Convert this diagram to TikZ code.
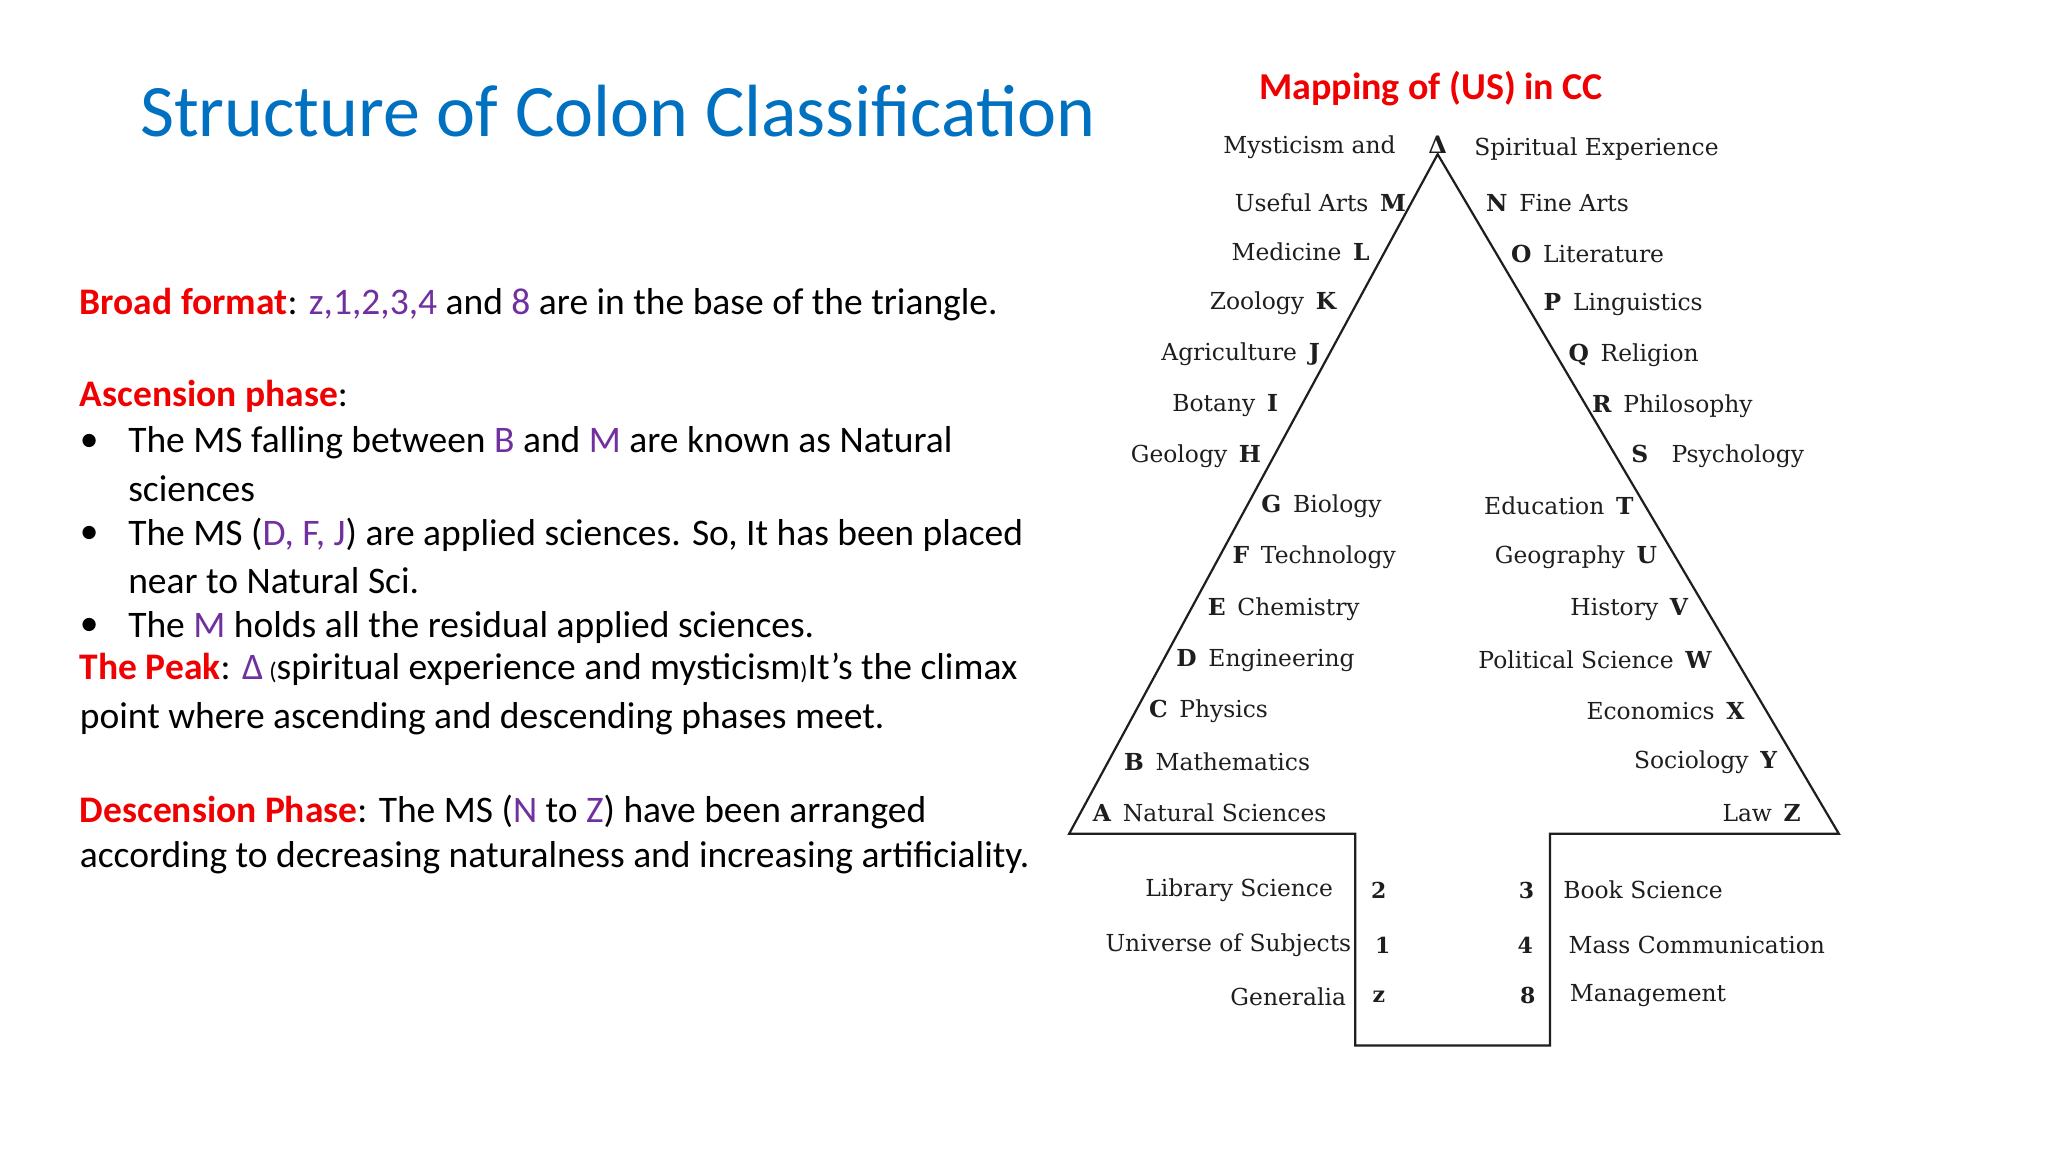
\documentclass[tikz,border=0pt]{standalone}
\usepackage{fontspec}
\setmainfont{Carlito}
\newfontfamily\labfont{DejaVu Serif}
\definecolor{ttl}{RGB}{0,112,192}
\definecolor{pur}{RGB}{112,48,160}
\definecolor{rd}{RGB}{240,0,0}
\definecolor{ink}{RGB}{30,30,30}
\begin{document}
\begin{tikzpicture}[x=1.307pt,y=-1.307pt,
  lab/.style={font=\labfont\fontsize{23.4}{26}\selectfont,text=ink,inner sep=0pt},
  num/.style={lab,font=\labfont\bfseries\fontsize{22}{26}\selectfont},
  body/.style={font=\fontsize{37.5}{42}\selectfont,anchor=west,inner sep=0pt}]
\useasboundingbox (0,0) rectangle (1567,881.4);
\fill[white] (0,0) rectangle (1567,881.4);
\node[anchor=west,text=ttl,font=\fontsize{74}{80}\selectfont,inner sep=0pt] (title) at (107,85) {Structure of Colon Classification};
\node[text=rd,font=\bfseries\fontsize{38}{44}\selectfont,inner sep=0pt] (map) at (1095,68) {Mapping of (US) in CC};
% left text
\node[body] (t1) at (61,233) {{\color{rd}\bfseries Broad format}: {\color{pur}z,1,2,3,4} and {\color{pur}8} are in the base of the triangle.};
\node[body] (t2) at (61,303) {{\color{rd}\bfseries Ascension phase}:};
\node[body] (b1) at (61,339) {•};
\node[body] (t3) at (98,339) {The MS falling between {\color{pur}B} and {\color{pur}M} are known as Natural};
\node[body] (t4) at (98,374) {sciences};
\node[body] (b2) at (61,409) {•};
\node[body] (t5) at (98,409) {The MS ({\color{pur}D, F, J}) are applied sciences. So, It has been placed};
\node[body] (t6) at (98,444) {near to Natural Sci.};
\node[body] (b3) at (61,480) {•};
\node[body] (t7) at (98,480) {The {\color{pur}M} holds all the residual applied sciences.};
\node[body] (t8) at (61,512) {{\color{rd}\bfseries The Peak}: {\color{pur}Δ}\,{\fontsize{24}{26}\selectfont(}spiritual experience and mysticism{\fontsize{24}{26}\selectfont)}It’s the climax};
\node[body] (t9) at (61,550) {point where ascending and descending phases meet.};
\node[body] (t10) at (61,621) {{\color{rd}\bfseries Descension Phase}: The MS ({\color{pur}N} to {\color{pur}Z}) have been arranged};
\node[body] (t11) at (61,656) {according to decreasing naturalness and increasing artificiality.};
% triangle outline
\coordinate (apex) at (1100,118);
\coordinate (bl) at (818,638);
\coordinate (br) at (1407,638);
\coordinate (sl) at (1037,638);
\coordinate (sr) at (1186,638);
\coordinate (sbl) at (1037,800);
\coordinate (sbr) at (1186,800);
\draw[line width=2.2pt,ink,line join=miter] (sl) -- (bl) -- (apex) -- (br) -- (sr) -- (sbr) -- (sbl) -- cycle;
\node[lab,font=\labfont\bfseries\fontsize{24}{26}\selectfont] (delta) at (1100,111) {Δ};
\node[lab,anchor=east] (myst) at (1068,113) {Mysticism and};
\node[lab,anchor=west] (spir) at (1128,114) {Spiritual Experience};
\foreach \t/\x/\y [count=\i] in {Useful Arts\enspace\textbf{M}/1076/155, Medicine\enspace\textbf{L}/1048/193, Zoology\enspace\textbf{K}/1023/232, Agriculture\enspace\textbf{J}/1010/271, Botany\enspace\textbf{I}/978/310, Geology\enspace\textbf{H}/965/349, Education\enspace\textbf{T}/1250/387, Geography\enspace\textbf{U}/1268/426, History\enspace\textbf{V}/1292/466, Political Science\enspace\textbf{W}/1310/505, Economics\enspace\textbf{X}/1335/544, Sociology\enspace\textbf{Y}/1360/583, Law\enspace\textbf{Z}/1378/622}
  \node[lab,anchor=east] (le\i) at (\x,\y) {\t};
\foreach \t/\x/\y [count=\i] in {\textbf{N}\enspace Fine Arts/1137/155, \textbf{O}\enspace Literature/1156/194, \textbf{P}\enspace Linguistics/1181/233, \textbf{Q}\enspace Religion/1200/272, \textbf{R}\enspace Philosophy/1218/311, \textbf{S}\enspace\enspace Psychology/1248/349, \textbf{G}\enspace Biology/965/387, \textbf{F}\enspace Technology/943/426, \textbf{E}\enspace Chemistry/924/466, \textbf{D}\enspace Engineering/900/505, \textbf{C}\enspace Physics/879/544, \textbf{B}\enspace Mathematics/860/583, \textbf{A}\enspace Natural Sciences/836/622}
  \node[lab,anchor=west] (rw\i) at (\x,\y) {\t};
% stem
\node[lab,anchor=east] (ls) at (1020,681) {Library Science};
\node[lab,anchor=east] (us) at (1034,723) {Universe of Subjects};
\node[lab,anchor=east] (ge) at (1030,763) {Generalia};
\node[num] (n2) at (1055,681) {2};
\node[num] (n1) at (1058,723) {1};
\node[num] (nz) at (1055,763) {z};
\node[num] (n3) at (1168,681) {3};
\node[num] (n4) at (1167,723) {4};
\node[num] (n8) at (1169,762) {8};
\node[lab,anchor=west] (bs) at (1196,681) {Book Science};
\node[lab,anchor=west] (mc) at (1200,723) {Mass Communication};
\node[lab,anchor=west] (mg) at (1201,762) {Management};
\end{tikzpicture}
\end{document}
